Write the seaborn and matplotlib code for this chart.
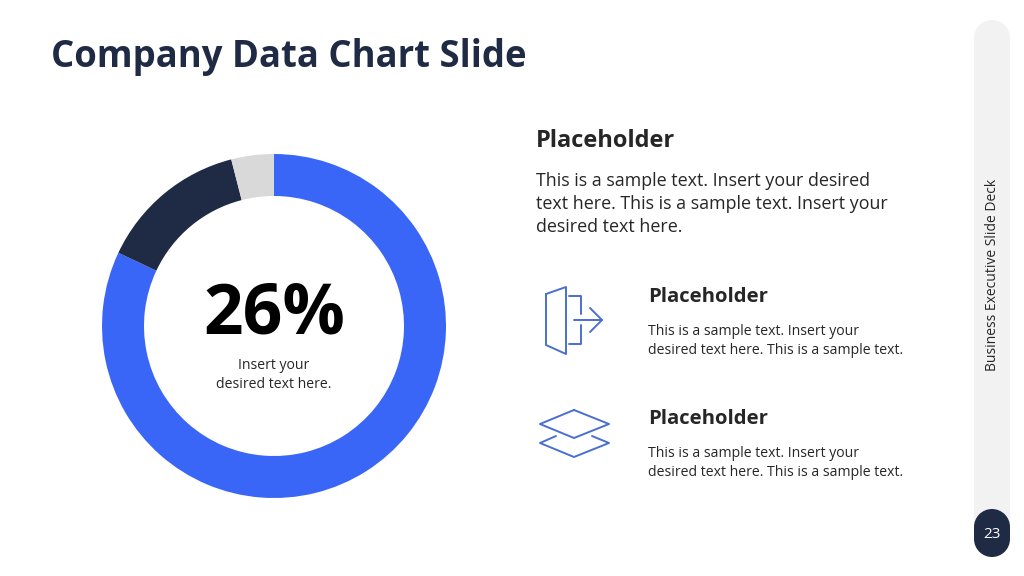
import matplotlib
matplotlib.use("Agg")
import matplotlib.pyplot as plt
from matplotlib.patches import Circle, Rectangle
import seaborn as sns

segments = ["Main", "Second", "Rest"]
shares = [82, 14, 4]
segment_colors = ["#3966F6", "#1F2A44", "#D9D9D9"]

title = "Company Data Chart Slide"
center_value = "26%"
center_text = "Insert your\ndesired text here."
heading = "Placeholder"
intro = "This is a sample text. Insert your desired\ntext here. This is a sample text. Insert your\ndesired text here."
item_text = "This is a sample text. Insert your\ndesired text here. This is a sample text."
side_label = "Business Executive Slide Deck"
page = "23"

NAVY = "#1F2A44"
DARK = "#262626"
ICON = "#4A6FD0"

sns.set_theme(style="white")
plt.rcParams['font.family'] = ['Open Sans', 'DejaVu Sans']

W, H = 1024, 576
fig = plt.figure(figsize=(W / 100, H / 100), dpi=100)

# whole slide in pixel coordinates
bg = fig.add_axes([0, 0, 1, 1])
bg.set_xlim(0, W)
bg.set_ylim(H, 0)
bg.axis("off")


def pill(x, top, bottom, width, color, z):
    rad = width / 2
    bg.add_patch(Rectangle((x, top + rad), width, bottom - top - width, fc=color, ec="none", zorder=z))
    bg.add_patch(Circle((x + rad, top + rad), rad, fc=color, ec="none", zorder=z))
    bg.add_patch(Circle((x + rad, bottom - rad), rad, fc=color, ec="none", zorder=z))


# donut
cx, cy, r = 274, 326, 172
ax = fig.add_axes([(cx - r) / W, 1 - (cy + r) / H, 2 * r / W, 2 * r / H])
ax.pie(shares, colors=segment_colors, startangle=90, counterclock=False, radius=1,
       wedgeprops=dict(width=42 / 172, linewidth=0))
ax.set_xlim(-1, 1)
ax.set_ylim(-1, 1)

bg.text(51, 57, title, fontsize=26.3, fontweight="bold", color=NAVY, va="center", ha="left")
bg.text(274, 315, center_value, fontsize=50, fontweight="bold", color="black", va="center", ha="center")
bg.text(274, 375, center_text, fontsize=10.1, color=DARK, va="center", ha="center", linespacing=1.33)

bg.text(536, 141, heading, fontsize=17, fontweight="bold", color=DARK, va="center")
bg.text(536, 204, intro, fontsize=12.87, color=DARK, va="center", linespacing=1.37)

for y, body_y in [(297, 341), (419, 463)]:
    bg.text(648, y, heading, fontsize=14.6, fontweight="bold", color=DARK, va="center")
    bg.text(648, body_y, item_text, fontsize=10.05, color=DARK, va="center", linespacing=1.33)

# door icon
lw = 1.4
bg.plot([546, 566, 566, 546, 546], [294, 287, 354, 345, 294], color=ICON, lw=lw)
bg.plot([569, 581, 581], [296, 296, 314], color=ICON, lw=lw)
bg.plot([569, 581, 581], [344, 344, 325], color=ICON, lw=lw)
bg.plot([574, 602], [320, 320], color=ICON, lw=lw)
bg.plot([590, 602, 590], [308, 320, 332], color=ICON, lw=lw)

# layers icon
bg.plot([574, 609, 574, 540, 574], [410, 424, 438, 424, 410], color=ICON, lw=lw)
bg.plot([556, 540, 574, 609, 592], [436, 443, 457, 443, 436], color=ICON, lw=lw)

# side bar
pill(974, 20, 540, 36, "#F2F2F2", 0)
pill(974, 509, 557, 36, NAVY, 1)
bg.text(992, 275, side_label, fontsize=10, color=DARK, rotation=90, va="center", ha="center")
bg.text(992, 534, page, fontsize=11, color="white", va="center", ha="center", zorder=2)

fig.savefig("out.png", dpi=100, facecolor="white")
